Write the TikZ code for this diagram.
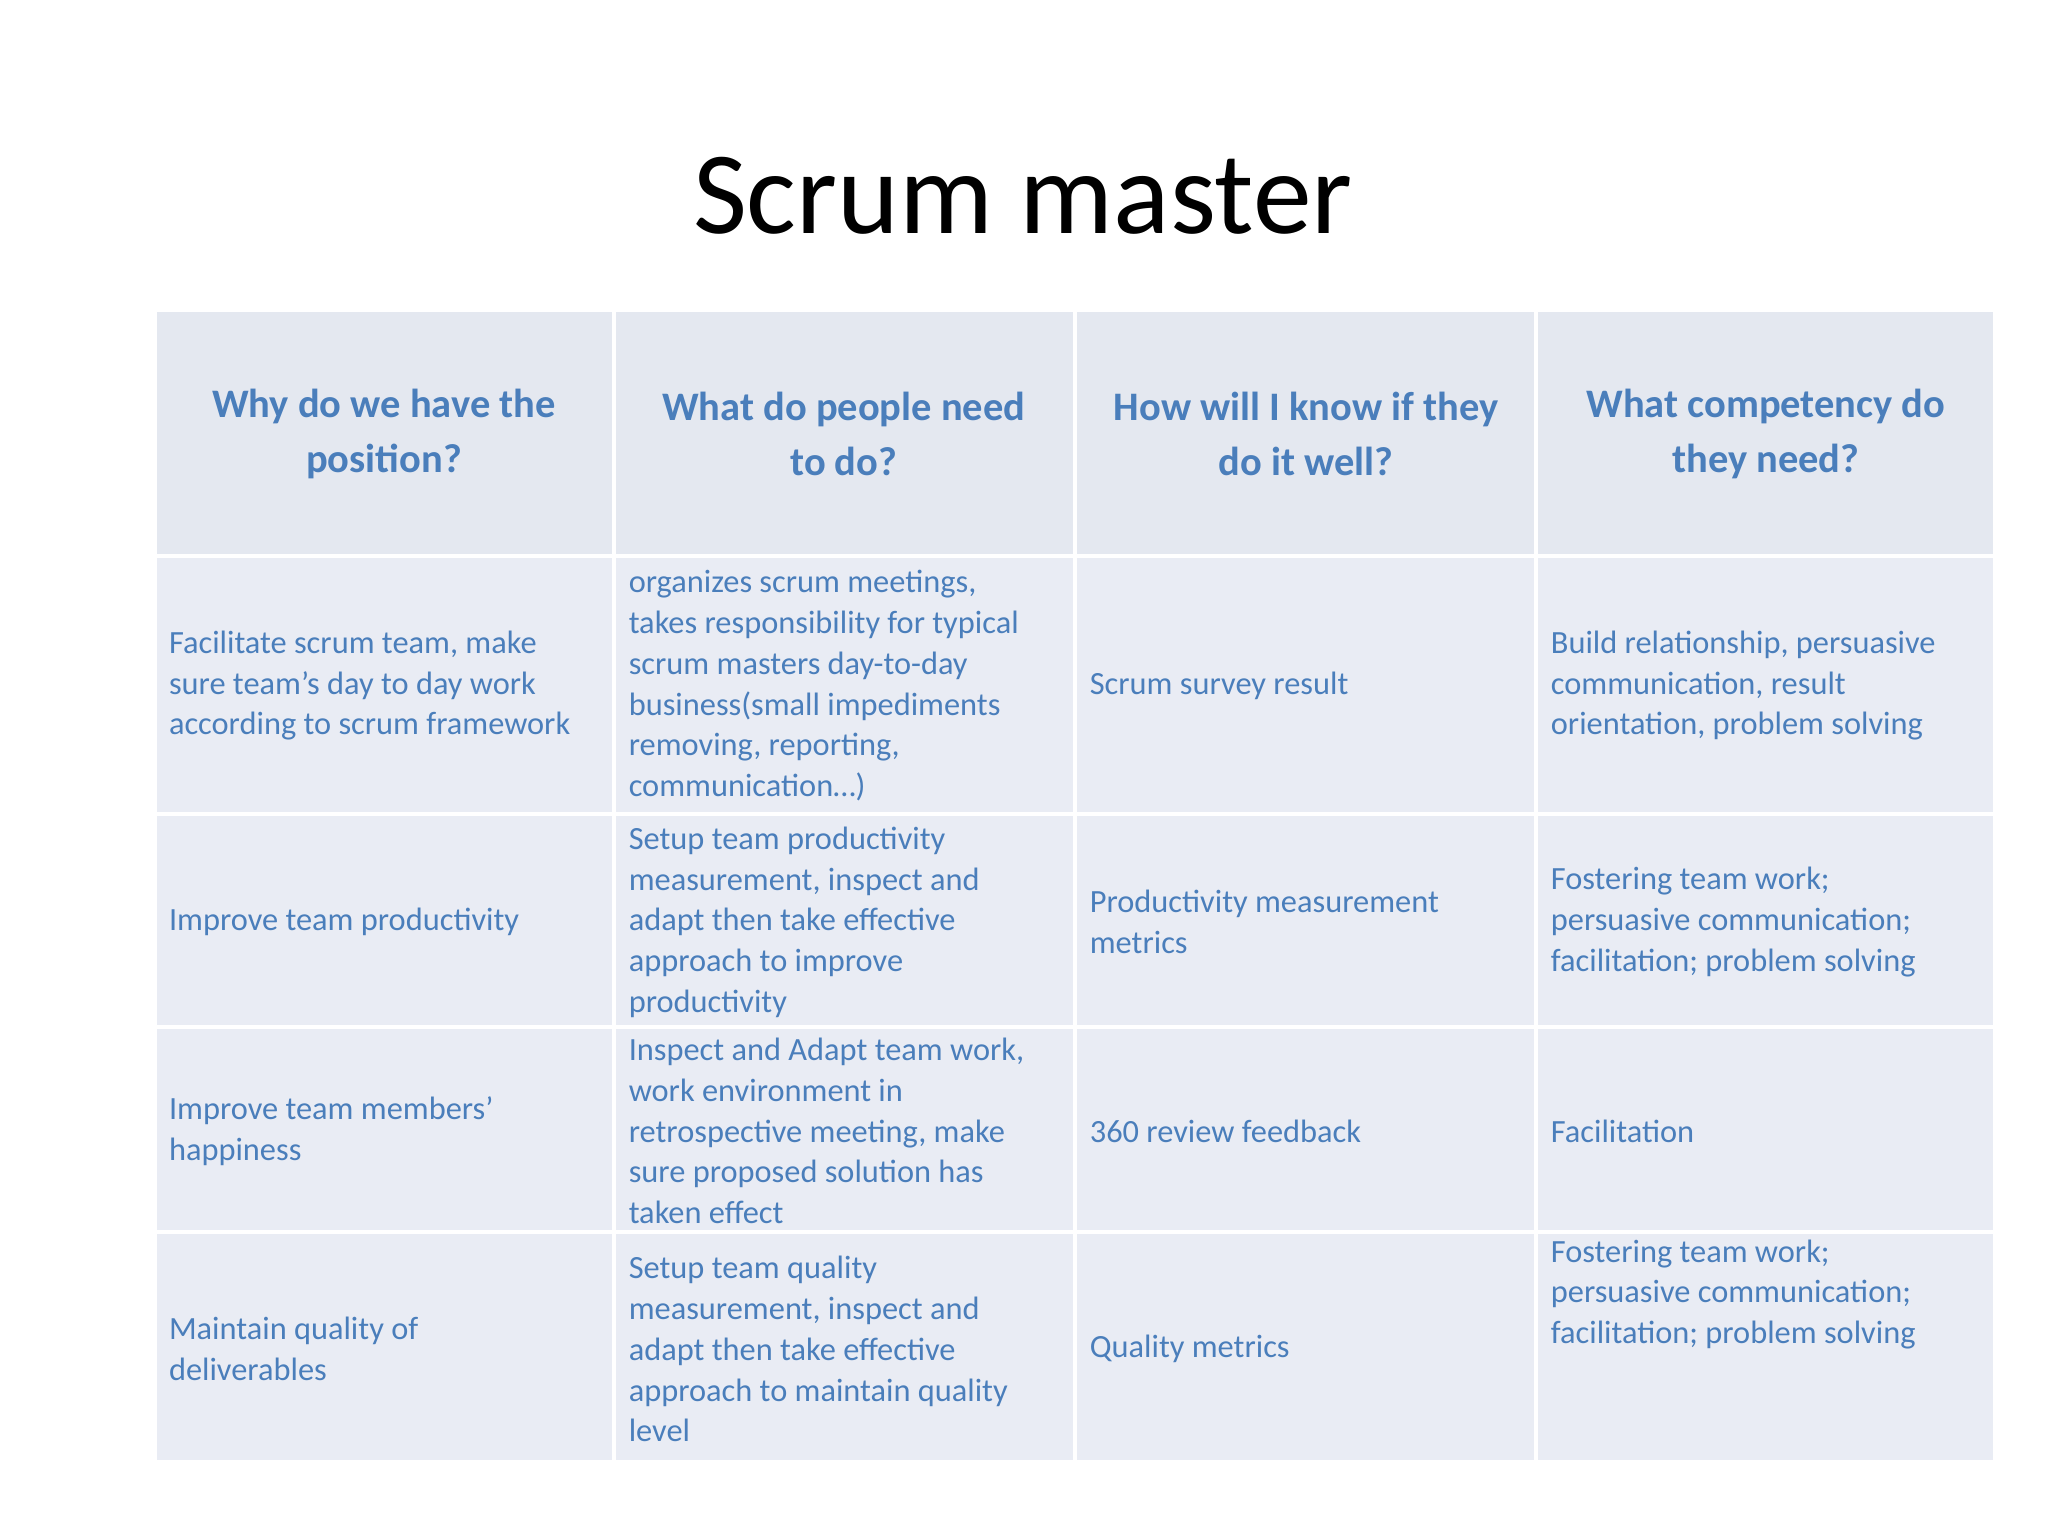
\documentclass[tikz,border=0pt]{standalone}
\usepackage{fontspec}
\setmainfont{Carlito}
\definecolor{txt}{HTML}{4A7EBB}
\definecolor{hd}{HTML}{E4E8F0}
\definecolor{bd}{HTML}{E9ECF4}
\begin{document}
\begin{tikzpicture}[x=0.5pt,y=-0.5pt,
  cell/.style={draw=white,line width=1.5pt},
  body/.style={anchor=west,align=left,text=txt,font=\fontsize{12.4}{15.6}\selectfont,inner sep=0pt},
  head/.style={anchor=center,align=center,text=txt,font=\bfseries\fontsize{15.5}{21}\selectfont,inner sep=0pt}]
\useasboundingbox (0,0) rectangle (1568,1176);
\fill[white] (0,0) rectangle (1568,1176);
\node[font=\fontsize{45}{50}\selectfont] (title) at (783,150) {Scrum master};
\def\xs{{119,470,823,1176,1527}}
\def\ys{{237,426,623,786,943,1119}}
\foreach \c in {0,1,2,3}{
  \foreach \r in {0,1,2,3,4}{
    \pgfmathsetmacro\xa{\xs[\c]}\pgfmathsetmacro\xb{\xs[\c+1]}
    \pgfmathsetmacro\ya{\ys[\r]}\pgfmathsetmacro\yb{\ys[\r+1]}
    \ifnum\r=0 \def\fc{hd}\else\def\fc{bd}\fi
    \filldraw[cell,fill=\fc] (\xa,\ya) rectangle (\xb,\yb);
  }
}
% headers
\node[head] (h1) at (294,332) {Why do we have the\\position?};
\node[head] (h2) at (646,332) {What do people need\\to do?};
\node[head] (h3) at (1000,332) {How will I know if they\\do it well?};
\node[head] (h4) at (1352,332) {What competency do\\they need?};
% row 1
\node[body] (a1) at (129,525) {Facilitate scrum team, make\\sure team’s day to day work\\according to scrum framework};
\node[body] (b1) at (481,525) {organizes scrum meetings,\\takes responsibility for typical\\scrum masters day-to-day\\business(small impediments\\removing, reporting,\\communication…)};
\node[body] (c1) at (834,525) {Scrum survey result};
\node[body] (d1) at (1187,525) {Build relationship, persuasive\\communication, result\\orientation, problem solving};
% row 2
\node[body] (a2) at (129,706) {Improve team productivity};
\node[body] (b2) at (481,706) {Setup team productivity\\measurement, inspect and\\adapt then take effective\\approach to improve\\productivity};
\node[body] (c2) at (834,706) {Productivity measurement\\metrics};
\node[body] (d2) at (1187,706) {Fostering team work;\\persuasive communication;\\facilitation; problem solving};
% row 3
\node[body] (a3) at (129,866) {Improve team members’\\happiness};
\node[body] (b3) at (481,866) {Inspect and Adapt team work,\\work environment in\\retrospective meeting, make\\sure proposed solution has\\taken effect};
\node[body] (c3) at (834,866) {360 review feedback};
\node[body] (d3) at (1187,866) {Facilitation};
% row 4
\node[body] (a4) at (129,1033) {Maintain quality of\\deliverables};
\node[body] (b4) at (481,1033) {Setup team quality\\measurement, inspect and\\adapt then take effective\\approach to maintain quality\\level};
\node[body] (c4) at (834,1033) {Quality metrics};
\node[body] (d4) at (1187,991) {Fostering team work;\\persuasive communication;\\facilitation; problem solving};
\end{tikzpicture}
\end{document}
